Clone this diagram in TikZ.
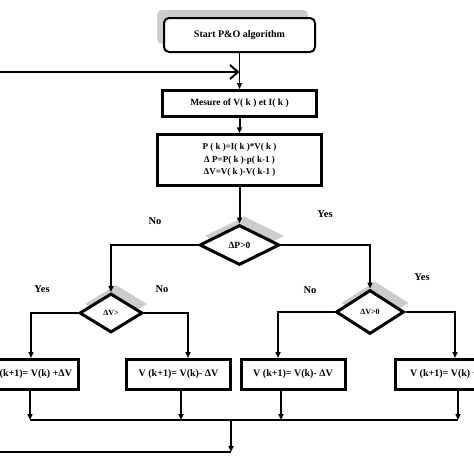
\documentclass[tikz,border=0pt]{standalone}
\usepackage{fontspec}
\setmainfont{Liberation Serif}
\usetikzlibrary{arrows.meta,shapes.geometric,shadows}

\begin{document}
\begin{tikzpicture}[x=1pt,y=-1pt,>={Triangle[length=6pt,width=5pt]},
  font=\bfseries\fontsize{10}{12}\selectfont,
  flow/.style={line width=2pt},
  startbox/.style={draw,line width=2pt,rounded corners=5pt,fill=white,inner sep=0pt,
    minimum width=151pt,minimum height=34pt,
    drop shadow={shadow xshift=-7pt,shadow yshift=8pt,fill=gray!40,opacity=1}},
  calcbox/.style={draw,line width=3pt,fill=white,inner sep=0pt,align=center},
  resbox/.style={draw,line width=3pt,fill=white,inner sep=0pt,minimum width=104pt,minimum height=30pt},
  test/.style={diamond,draw,line width=3pt,fill=white,inner sep=0pt,
    drop shadow={shadow xshift=5pt,shadow yshift=9pt,fill=gray!40,opacity=1}},
  lbl/.style={font=\bfseries\fontsize{10.5}{12}\selectfont}]
\useasboundingbox (0,0) rectangle (474,474);
\clip (0,0) rectangle (474,474);
% main column
\node[startbox] (start) at (239.5,35) {Start P\&O algorithm};
\node[calcbox,minimum width=154pt,minimum height=26pt,font=\bfseries\fontsize{9.5}{12}\selectfont] (mes) at (239.5,103.5) {Mesure of V( k ) et I( k )};
\node[calcbox,line width=2.5pt,minimum width=164pt,minimum height=51pt,font=\bfseries\fontsize{9}{12.5}\selectfont] (calc) at (239.5,160) {P ( k )=I( k )*V( k )\\Δ P=P( k )-p( k-1 )\\ΔV=V( k )-V( k-1 )};
% tests
\node[test,minimum width=80pt,minimum height=40pt,font=\bfseries\fontsize{9.5}{12}\selectfont] (dp) at (239.5,245) {ΔP>0};
\node[test,minimum width=63pt,minimum height=39pt,font=\bfseries\fontsize{8}{10}\selectfont] (dvl) at (111,313) {ΔV>};
\node[test,minimum width=68pt,minimum height=44pt,font=\bfseries\fontsize{8}{10}\selectfont] (dvr) at (370,312) {ΔV>0};
% new voltage
\node[resbox,minimum width=95pt] (inc1) at (31,374.5) {V (k+1)= V(k) +ΔV};
\node[resbox] (dec1) at (178.5,374.5) {V (k+1)= V(k)- ΔV};
\node[resbox] (dec2) at (293,374.5) {V (k+1)= V(k)- ΔV};
\node[resbox,minimum width=111pt] (inc2) at (451,374.5) {V (k+1)= V(k) +ΔV};
% branch labels
\node[lbl] (no1) at (155,221) {No};
\node[lbl] (yes1) at (325,214) {Yes};
\node[lbl] (yes2) at (42,289) {Yes};
\node[lbl] (no2) at (162,289) {No};
\node[lbl] (no3) at (310,290) {No};
\node[lbl] (yes3) at (422,277) {Yes};
% connectors
\coordinate (loopy) at (0,72);
\coordinate (join) at (231,420);
\coordinate (back) at (231,452);
\coordinate (lowleft) at (-20,452);
\coordinate (upleft) at (-20,72);
\draw[line width=1pt,->] (start) -- (mes);
\draw[flow,->] (mes) -- (calc);
\draw[flow,->] (calc) -- (dp);
\draw[flow,->] (dp.west) -| (dvl.north);
\draw[flow,->] (dp.east) -| (dvr.north);
\draw[flow,->] (dvl.west) -| (inc1.north);
\draw[flow,->] (dvl.east) -| ([xshift=9.5pt]dec1.north);
\draw[flow,->] (dvr.west) -| ([xshift=-15pt]dec2.north);
\draw[flow,->] (dvr.east) -| ([xshift=4pt]inc2.north);
\draw[flow,->] ([xshift=-1pt]inc1.south) -- ([xshift=-1pt]inc1.south |- join);
\draw[flow,->] ([xshift=2.5pt]dec1.south) -- ([xshift=2.5pt]dec1.south |- join);
\draw[flow,->] ([xshift=-12pt]dec2.south) -- ([xshift=-12pt]dec2.south |- join);
\draw[flow,->] ([xshift=7pt]inc2.south) -- ([xshift=7pt]inc2.south |- join);
\draw[flow] ([xshift=-1pt]inc1.south |- join) -- ([xshift=7pt]inc2.south |- join);
\draw[flow,->] (join) -- (back);
\draw[flow,-{Straight Barb[length=8pt,width=14pt]}] (back) -- (lowleft) -- (upleft) -- (start.south |- loopy);
\end{tikzpicture}
\end{document}
